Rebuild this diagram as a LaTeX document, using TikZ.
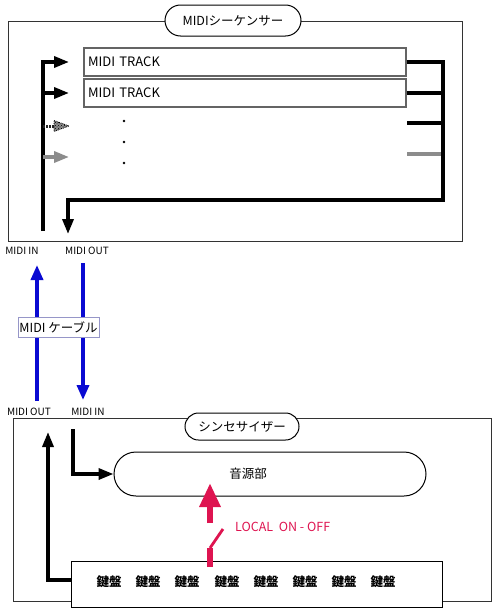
\documentclass[tikz,border=0pt]{standalone}
\usepackage{fontspec}
\setmainfont{Noto Sans CJK JP}
\usetikzlibrary{arrows.meta,patterns}
\definecolor{crim}{RGB}{222,20,80}
\definecolor{cblue}{RGB}{10,10,210}
\definecolor{trk}{RGB}{100,100,100}
\definecolor{cab}{RGB}{150,150,200}
\begin{document}
\begin{tikzpicture}[x=1pt,y=-1pt,
  every node/.style={font=\fontsize{12.5}{14}\selectfont, inner sep=0pt},
  lab/.style={font=\fontsize{10}{11}\selectfont},
  frame/.style={draw=black!80, line width=1pt},
  pill/.style={draw=black, line width=1pt, fill=white, rounded corners=#1},
  trackbox/.style={draw=trk, line width=1.2pt, fill=white, minimum width=322pt, minimum height=28pt, text width=314pt, align=left, font=\fontsize{13}{14}\selectfont},
  blk/.style={line width=3.4pt},
  tipk/.style={-{Triangle[length=15pt,width=11pt]}},
  bluearr/.style={draw=cblue, line width=3.5pt, -{Triangle[length=15pt,width=12pt]}},
  keytxt/.style={font=\fontsize{12.5}{14}\selectfont\bfseries}
]
\useasboundingbox (0,0) rectangle (495,613);

% ---------- MIDI sequencer ----------
\node[frame, minimum width=454pt, minimum height=220pt] (seq) at (235,131) {};
\node[pill=15.5pt, minimum width=136pt, minimum height=31pt] (seqt) at (233,20.5) {MIDIシーケンサー};
\node[trackbox] (tr1) at (245,62) {MIDI TRACK};
\node[trackbox] (tr2) at (245,93) {MIDI TRACK};
\fill (124,121) circle (1.4pt) (124,142) circle (1.4pt) (124,163) circle (1.4pt);

% left distribution
\coordinate (lbot) at (43,231);
\coordinate (b2) at (43,93);
\coordinate (b3) at (43,126);
\coordinate (b4) at (43,157);
\coordinate (t1) at (69,62);
\coordinate (t2) at (69,93);
\coordinate (h3) at (54,126);
\coordinate (t4) at (69,157);
\draw[blk, tipk, line join=miter] (lbot) |- (t1);
\draw[blk, tipk] (b2) -- (t2);
\draw[line width=3pt, black!85, dash pattern=on 2pt off 1pt] (b3) -- (h3);
\fill[black!45] (54,120.5) -- (69,126) -- (54,131.5) -- cycle;
\fill[pattern=crosshatch dots, pattern color=black] (54,120.5) -- (69,126) -- (54,131.5) -- cycle;
\draw[black, line width=0.8pt, densely dotted] (54,120.5) -- (69,126) -- (54,131.5) -- cycle;
\draw[blk, black!45, tipk] (b4) -- (t4);

% right merge
\coordinate (r1) at (443,62);
\coordinate (r2) at (443,93);
\coordinate (s3) at (407,123);
\coordinate (r3) at (443,123);
\coordinate (s4) at (407,154);
\coordinate (r4) at (443,154);
\coordinate (rb) at (443,200);
\coordinate (otip) at (68,234);
\draw[blk] (tr1.east) -- (r1);
\draw[blk] (tr2.east) -- (r2);
\draw[blk] (s3) -- (r3);
\draw[blk, black!45] (s4) -- (r4);
\draw[blk, tipk, line join=miter] (tr1.east) -- (r1) -- (rb) -| (otip);

\node[lab] (sin) at (22,251) {MIDI IN};
\node[lab] (sout) at (87,251) {MIDI OUT};

% ---------- cables ----------
\coordinate (cu0) at (37,401);
\coordinate (cu1) at (37,265);
\coordinate (cd0) at (83,263);
\coordinate (cd1) at (83,400);
\draw[bluearr] (cu0) -- (cu1);
\draw[bluearr] (cd0) -- (cd1);
\node[draw=cab, line width=0.7pt, fill=white, minimum width=81pt, minimum height=20pt] (cable) at (58.5,327) {MIDI ケーブル};

\node[lab] (yout) at (29,412) {MIDI OUT};
\node[lab] (yin) at (88,412) {MIDI IN};

% ---------- synthesizer ----------
\node[frame, minimum width=478pt, minimum height=183pt] (syn) at (252,509.5) {};
\node[pill=13.5pt, minimum width=114pt, minimum height=27pt] (synt) at (242,426.5) {シンセサイザー};
\node[pill=22pt, minimum width=312pt, minimum height=44pt] (tone) at (270,474) {};
\node (tonet) at (248,474) {音源部};
\node[draw=black, line width=1pt, fill=white, minimum width=371pt, minimum height=46pt] (kbd) at (256.5,584) {};
\foreach \i/\x in {1/109,2/148,3/187,4/227,5/266,6/305,7/344,8/383}
  \node[keytxt] (k\i) at (\x,582) {鍵盤};

\coordinate (k0) at (71,580);
\coordinate (otop) at (48,432);
\draw[blk, tipk, line join=miter] (k0) -| (otop);
\coordinate (intop) at (73,429);
\draw[blk, tipk, line join=miter] (intop) |- (tone.west);

% local switch
\coordinate (rs) at (210,523);
\coordinate (rt) at (210,483);
\draw[crim, line width=6pt, -{Triangle[length=24pt,width=20pt]}] (rs) -- (rt);
\coordinate (sw0) at (210,567);
\coordinate (sw1) at (210,548);
\coordinate (sw2) at (223,529);
\draw[crim, line width=6pt] (sw0) -- (sw1);
\draw[crim, line width=2.8pt] (sw1) -- (sw2);
\node[anchor=west, text=crim] (local) at (235,527) {LOCAL\ \ ON - OFF};
\end{tikzpicture}
\end{document}
